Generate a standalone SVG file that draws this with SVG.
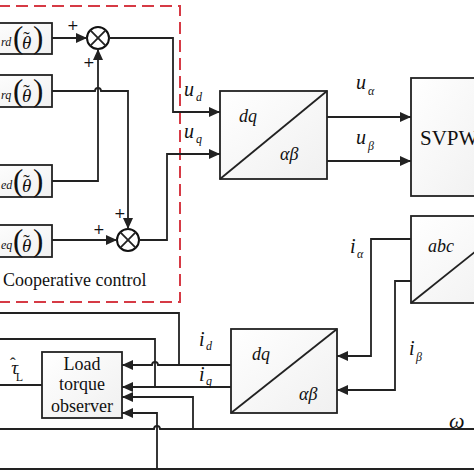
<svg xmlns="http://www.w3.org/2000/svg" width="474" height="474" viewBox="0 0 474 474">
<style>
.ln{fill:none;stroke:#222;stroke-width:1.8}
.bx{fill:url(#g);stroke:#222;stroke-width:1.8}
.t{font-family:"Liberation Serif","Times New Roman",serif;fill:#111}
.m{font-family:"Liberation Serif","Times New Roman",serif;font-style:italic;fill:#111}
.sj{fill:#fff;stroke:#111;stroke-width:2}
.pl{font-family:"DejaVu Sans",sans-serif;font-size:14px;fill:#111}
.up{font-style:normal}
</style>
<defs>
<linearGradient id="g" x1="0" y1="0" x2="1" y2="1">
<stop offset="0" stop-color="#ffffff"/>
<stop offset="1" stop-color="#f0f0f0"/>
</linearGradient>
<marker id="a" markerWidth="12" markerHeight="10" refX="11" refY="5" orient="auto" markerUnits="userSpaceOnUse">
<path d="M0,0 L11,5 L0,10 Z" fill="#222"/>
</marker>
</defs>
<rect x="0" y="0" width="474" height="474" fill="#fff"/>

<g id="coop-frame">
<path d="M-2,6 H180 V302 H-2" fill="none" stroke="#d63a45" stroke-width="2" stroke-dasharray="12,6"/>
<text class="t" x="3" y="286" font-size="18">Cooperative control</text>
</g>

<g id="box-rd">
<rect class="bx" x="-20" y="23" width="72" height="31"/>
<text class="m" x="1" y="46" font-size="12">rd</text>
<text class="t" x="13" y="48" font-size="31">(</text>
<text class="m" x="22" y="49" font-size="19">θ<tspan class="up" dx="-8" dy="-4">˜</tspan></text>
<text class="t" x="33" y="48" font-size="31">)</text>
</g>
<g id="box-rq">
<rect class="bx" x="-20" y="75" width="72" height="32"/>
<text class="m" x="1" y="99" font-size="12">rq</text>
<text class="t" x="13" y="101" font-size="31">(</text>
<text class="m" x="22" y="102" font-size="19">θ<tspan class="up" dx="-8" dy="-4">˜</tspan></text>
<text class="t" x="33" y="101" font-size="31">)</text>
</g>
<g id="box-ed">
<rect class="bx" x="-20" y="165" width="72" height="32"/>
<text class="m" x="1" y="189" font-size="12">ed</text>
<text class="t" x="13" y="191" font-size="31">(</text>
<text class="m" x="22" y="192" font-size="19">θ<tspan class="up" dx="-8" dy="-4">˜</tspan></text>
<text class="t" x="33" y="191" font-size="31">)</text>
</g>
<g id="box-eq">
<rect class="bx" x="-20" y="225" width="72" height="32"/>
<text class="m" x="1" y="249" font-size="12">eq</text>
<text class="t" x="13" y="251" font-size="31">(</text>
<text class="m" x="22" y="252" font-size="19">θ<tspan class="up" dx="-8" dy="-4">˜</tspan></text>
<text class="t" x="33" y="251" font-size="31">)</text>
</g>

<g id="sum1">
<circle class="sj" cx="98" cy="38" r="11"/>
<path class="ln" d="M90.2,30.2 L105.8,45.8 M105.8,30.2 L90.2,45.8" stroke-width="2"/>
</g>
<g id="sum2">
<circle class="sj" cx="128" cy="240" r="11"/>
<path class="ln" d="M120.2,232.2 L135.8,247.8 M135.8,232.2 L120.2,247.8" stroke-width="2"/>
</g>

<g id="dq1">
<rect class="bx" x="220" y="91" width="107" height="88"/>
<path class="ln" d="M220,179 L327,91"/>
<text class="m" x="239" y="122" font-size="18">dq</text>
<text class="m" x="280" y="160" font-size="18">αβ</text>
</g>

<g id="svpwm">
<rect class="bx" x="411" y="78" width="80" height="118"/>
<text class="t" x="420" y="145" font-size="21">SVPWM</text>
</g>

<g id="abc">
<rect class="bx" x="411" y="216" width="109" height="87"/>
<path class="ln" d="M411,303 L520,216"/>
<text class="m" x="428" y="252" font-size="18">abc</text>
</g>

<g id="dq2">
<rect class="bx" x="231" y="329" width="106" height="84"/>
<path class="ln" d="M231,413 L337,329"/>
<text class="m" x="252" y="360" font-size="18">dq</text>
<text class="m" x="299" y="400" font-size="18">αβ</text>
</g>

<g id="lto">
<rect class="bx" x="42" y="352" width="80" height="66"/>
<text class="t" x="82" y="370" font-size="18" text-anchor="middle">Load</text>
<text class="t" x="82" y="390" font-size="18" text-anchor="middle">torque</text>
<text class="t" x="82" y="412" font-size="18" text-anchor="middle">observer</text>
</g>

<g id="connectors">
<path class="ln" d="M52,38 H87" marker-end="url(#a)"/>
<path class="ln" d="M52,181 H98 V49" marker-end="url(#a)"/>
<path class="ln" d="M52,91 H95 A3,3 0 0 1 101,91 H128 V229" marker-end="url(#a)"/>
<path class="ln" d="M52,240 H117" marker-end="url(#a)"/>
<path class="ln" d="M109,38 H173 V112 H220" marker-end="url(#a)"/>
<path class="ln" d="M139,240 H167 V154 H220" marker-end="url(#a)"/>
<path class="ln" d="M327,117 H411" marker-end="url(#a)"/>
<path class="ln" d="M327,161 H411" marker-end="url(#a)"/>
<path class="ln" d="M411,239 H371 V356 H337" marker-end="url(#a)"/>
<path class="ln" d="M411,281 H395 V390 H337" marker-end="url(#a)"/>
<path class="ln" d="M231,365 H158 A3,3 0 0 0 152,365 H122" marker-end="url(#a)"/>
<path class="ln" d="M179,365 V313 H-2"/>
<path class="ln" d="M231,387 H122" marker-end="url(#a)"/>
<path class="ln" d="M155,387 V339 H-2"/>
<path class="ln" d="M193,429 V397 H122" marker-end="url(#a)"/>
<path class="ln" d="M157,469 V413 H122" marker-end="url(#a)"/>
<path class="ln" d="M-2,429 H154 A3,3 0 0 1 160,429 H476"/>
<path class="ln" d="M-2,469 H476"/>
<path class="ln" d="M42,385 H-2"/>
</g>

<g id="labels">
<text class="pl" x="67" y="30">+</text>
<text class="pl" x="83" y="67">+</text>
<text class="pl" x="114" y="218">+</text>
<text class="pl" x="93" y="234">+</text>
<text class="m" x="184" y="96" font-size="20">u</text><text class="m" x="196" y="101" font-size="12">d</text>
<text class="m" x="184" y="138" font-size="20">u</text><text class="m" x="196" y="143" font-size="12">q</text>
<text class="m" x="356" y="89" font-size="20">u</text><text class="m" x="368" y="95" font-size="12">α</text>
<text class="m" x="356" y="144" font-size="20">u</text><text class="m" x="368" y="150" font-size="12">β</text>
<text class="m" x="350" y="253" font-size="20">i</text><text class="m" x="357" y="258" font-size="12">α</text>
<text class="m" x="409" y="355" font-size="20">i</text><text class="m" x="416" y="361" font-size="12">β</text>
<text class="m" x="199" y="346" font-size="20">i</text><text class="m" x="206" y="350" font-size="12">d</text>
<text class="m" x="199" y="381" font-size="20">i</text><text class="m" x="206" y="385" font-size="12">q</text>
<text class="m" x="10" y="374" font-size="19">τ<tspan class="up" font-size="17" dx="-8" dy="-5">ˆ</tspan><tspan class="up" font-size="12" dx="0" dy="12">L</tspan></text>
<text class="m" x="449" y="428" font-size="22">ω</text>
</g>
</svg>
